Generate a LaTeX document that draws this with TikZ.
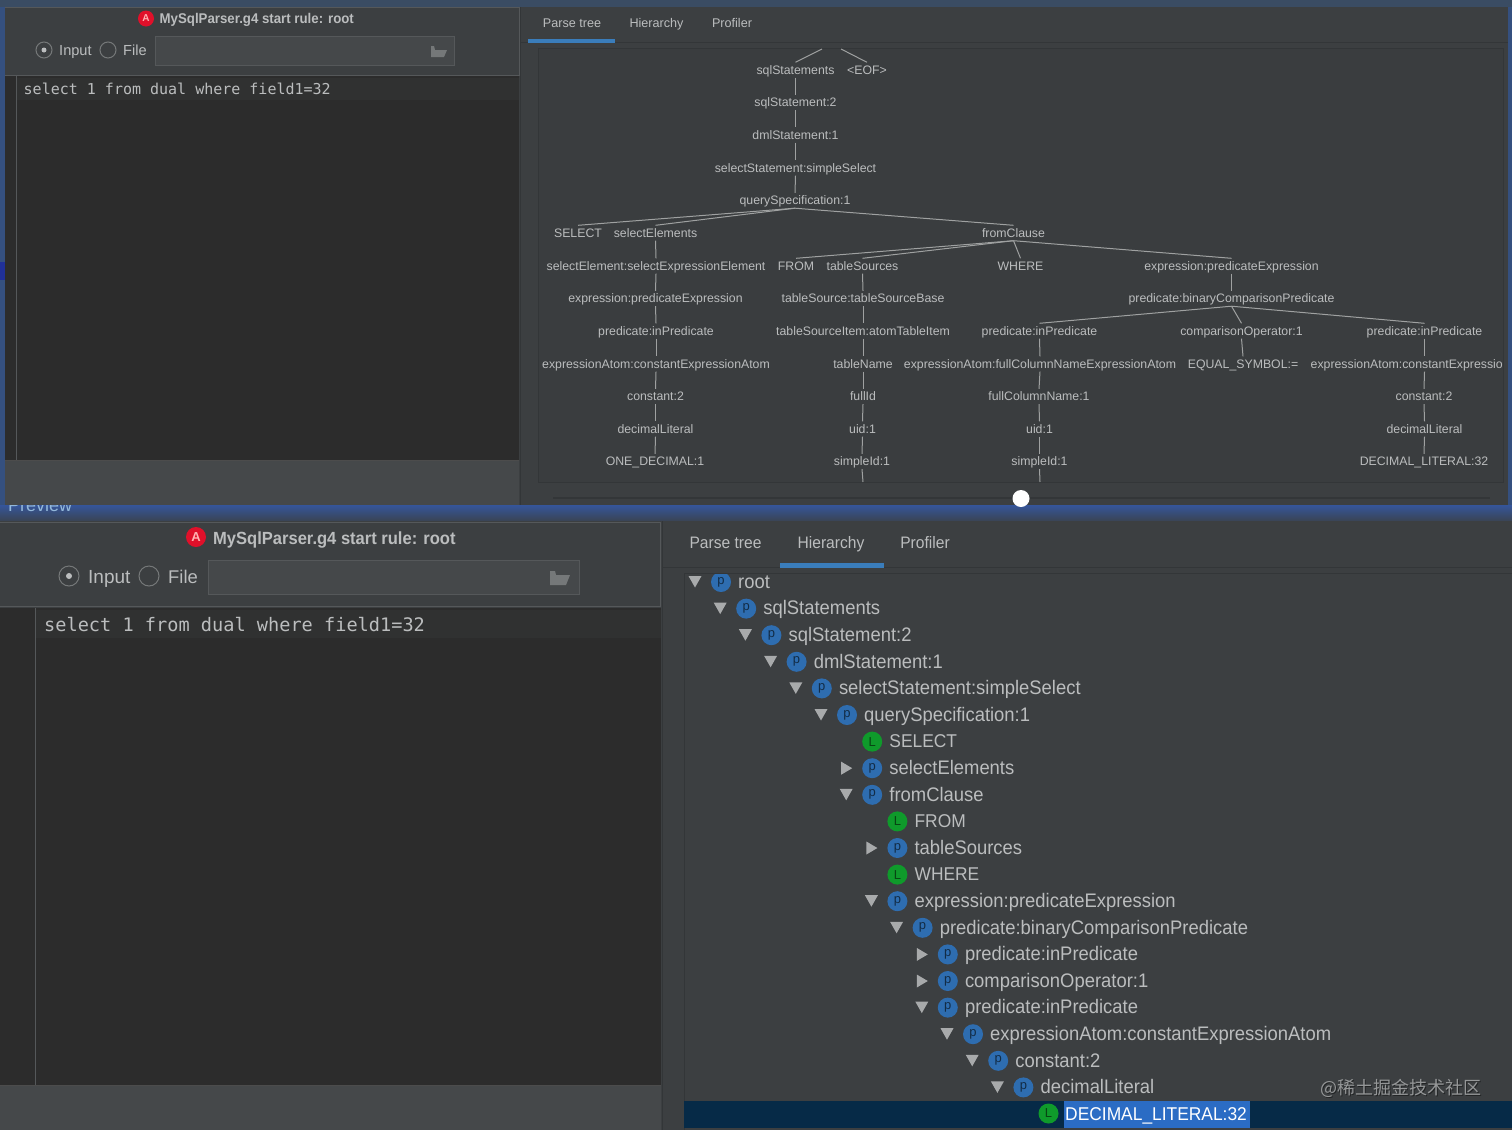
\documentclass[tikz,border=0pt]{standalone}
\usepackage{fontspec}
\setmainfont{Liberation Sans}
\setmonofont{DejaVu Sans Mono}
\newfontfamily\cjkfont{Noto Sans CJK SC}
\newfontfamily\condfont[FakeStretch=0.94]{Liberation Sans}
\newcommand{\capsz}{\fontsize{18.5}{22}\selectfont}
\definecolor{panel}{HTML}{3C3F41}
\definecolor{treebg}{HTML}{3A3D3F}
\definecolor{edit}{HTML}{2C2C2C}
\definecolor{editline}{HTML}{303131}
\definecolor{foot}{HTML}{45484A}
\definecolor{txt}{HTML}{BBBDBE}
\definecolor{rule}{HTML}{333638}
\definecolor{frameline}{HTML}{55585A}
\definecolor{ublue}{HTML}{3A7DBB}
\definecolor{barblue}{HTML}{35507F}
\definecolor{bandblue}{HTML}{35559A}
\definecolor{topbar}{HTML}{3A4C63}
\definecolor{pblue}{HTML}{2E6DB0}
\definecolor{lgreen}{HTML}{0F9A2B}
\definecolor{antred}{HTML}{E0102A}
\definecolor{selrow}{HTML}{062A47}
\definecolor{selbox}{HTML}{2B6CC4}
\tikzset{
  x=1pt,y=-1pt,
  tn/.style={inner sep=0pt,minimum height=15pt,text height=8pt,text depth=0pt,text=txt,font=\fontsize{12.3}{14}\selectfont},
  edge/.style={draw=txt!85!black,line width=1pt},
  tabtxt/.style={inner sep=0pt,text=txt,text depth=0pt},
  rowtxt/.style={inner sep=0pt,anchor=west,text=txt,text height=12.5pt,text depth=0pt,font=\condfont\fontsize{19.6}{22}\selectfont},
  ico/.style={circle,inner sep=0pt,minimum size=20pt,font=\fontsize{13}{13}\selectfont},
  pico/.style={ico,fill=pblue,text=black!60!pblue},
  lico/.style={ico,fill=lgreen,text=black!55!lgreen},
  tri/.style={fill=txt!90!black},
  box/.style={draw=frameline,line width=1pt,fill=foot},
  radio/.style={circle,draw=txt!45!panel,line width=1pt,inner sep=0pt,fill=panel},
  dot/.style={circle,fill=txt,inner sep=0pt},
  antlr/.style={circle,fill=antred,inner sep=0pt,text=white!70!red},
  lbl/.style={inner sep=0pt,anchor=west,text=txt,text depth=0pt},
}
\begin{document}
\begin{tikzpicture}
\useasboundingbox (0,0) rectangle (1512,1130);
\fill[barblue] (0,0) rectangle (1512,1130);
\fill[black!15!barblue!70!blue] (0,262) rectangle (5,280);
\fill[topbar] (0,0) rectangle (1512,7);
% ---------- top window
\fill[panel] (5,7) rectangle (1508,505);
\shade[top color=bandblue,bottom color=panel!70!barblue] (0,505) rectangle (1512,521);
\begin{scope}
\clip (0,504.5) rectangle (90,513);
\node[inner sep=0pt,anchor=base west,text=ublue!55!white,font=\fontsize{18}{20}\selectfont] (prev) at (8,511.5) {Preview};
\end{scope}
\draw[frameline,line width=.8pt] (5,7.5) -- (519.5,7.5) -- (519.5,75) -- (5,75);
\fill[edit] (5,76) rectangle (519,460);
\fill[editline] (17,78) rectangle (519,100);
\draw[frameline,line width=.8pt] (16.5,76) -- (16.5,460);
\fill[foot] (5,461) rectangle (519,505);
\draw[black!70,line width=1pt] (5,460.5) -- (519,460.5);
\draw[rule,line width=1pt] (520.5,7) -- (520.5,505);
% header
\node[antlr,minimum size=16pt,font=\bfseries\fontsize{10}{10}\selectfont] (a1) at (146,18.5) {A};
\node[lbl,text height=10pt,font=\condfont\bfseries\fontsize{14.1}{15}\selectfont] (t1) at (159.5,18.5) {MySqlParser.g4 start rule: root};
\node[radio,minimum size=16pt] (r1) at (44,50) {};
\node[dot,minimum size=5pt] (r1d) at (44,50) {};
\node[lbl,text height=11pt,font=\fontsize{14.6}{16}\selectfont] (i1) at (59,50) {Input};
\node[radio,minimum size=16pt] (r2) at (108,50) {};
\node[lbl,text height=11pt,font=\fontsize{14.6}{16}\selectfont] (f1) at (123,50) {File};
\draw[box] (155.5,36.5) rectangle (454,65);
\fill[txt!45!panel] (431,46) -- (431,57) -- (444,57) -- (447,50) -- (435,50) -- (434,46) -- cycle;
\node[lbl,text height=11pt,font=\ttfamily\fontsize{15}{17}\selectfont] (q1) at (23.5,89) {select 1 from dual where field1=32};
% tabs
\draw[rule,line width=1pt] (521,42) -- (1508,42);
\fill[ublue] (528,39) rectangle (615,42.5);
\node[tabtxt,text height=9.5pt,font=\fontsize{12.6}{14}\selectfont] (tp1) at (572,22.5) {Parse tree};
\node[tabtxt,text height=9.5pt,font=\fontsize{12.6}{14}\selectfont] (th1) at (656.5,22.5) {Hierarchy};
\node[tabtxt,text height=9.5pt,font=\fontsize{12.6}{14}\selectfont] (tf1) at (732,22.5) {Profiler};
% tree
\fill[treebg] (538,48) rectangle (1503,482);
\draw[rule,line width=.5pt] (538,48) rectangle (1503,482);
\coordinate (rootL) at (822,49);
\coordinate (rootR) at (841,49);
\coordinate (stubA) at (863,482);
\coordinate (stubB) at (1040,482);
\begin{scope}
\clip (538,48) rectangle (1502.5,482);
\node[tn] (n1) at (795.5,70) {sqlStatements};
\node[tn] (n2) at (867,70) {<EOF>};
\node[tn] (n3) at (795.5,102.5) {sqlStatement:2};
\node[tn] (n4) at (795.5,135) {dmlStatement:1};
\node[tn] (n5) at (795.5,168) {selectStatement:simpleSelect};
\node[tn] (n6) at (795,200.5) {querySpecification:1};
\node[tn] (n7) at (578,233) {SELECT};
\node[tn] (n8) at (655.5,233) {selectElements};
\node[tn] (n9) at (1013.5,233) {fromClause};
\node[tn] (n10) at (656,266) {selectElement:selectExpressionElement};
\node[tn] (n11) at (796,266) {FROM};
\node[tn] (n12) at (862.5,266) {tableSources};
\node[tn] (n13) at (1020.5,266) {WHERE};
\node[tn] (n14) at (1231.5,266) {expression:predicateExpression};
\node[tn] (n15) at (655.5,298.5) {expression:predicateExpression};
\node[tn] (n16) at (863,298.5) {tableSource:tableSourceBase};
\node[tn] (n17) at (1231.5,298.5) {predicate:binaryComparisonPredicate};
\node[tn] (n18) at (656,331) {predicate:inPredicate};
\node[tn] (n19) at (863,331) {tableSourceItem:atomTableItem};
\node[tn] (n20) at (1039.5,331) {predicate:inPredicate};
\node[tn] (n21) at (1241.5,331) {comparisonOperator:1};
\node[tn] (n22) at (1424.5,331) {predicate:inPredicate};
\node[tn] (n23) at (656,364) {expressionAtom:constantExpressionAtom};
\node[tn] (n24) at (863,364) {tableName};
\node[tn] (n25) at (1040,364) {expressionAtom:fullColumnNameExpressionAtom};
\node[tn] (n26) at (1243,364) {EQUAL\_SYMBOL:=};
\node[tn] (n27) at (1424.5,364) {expressionAtom:constantExpressionAtom};
\node[tn] (n28) at (655.5,396.5) {constant:2};
\node[tn] (n29) at (863,396.5) {fullId};
\node[tn] (n30) at (1039,396.5) {fullColumnName:1};
\node[tn] (n31) at (1424,396.5) {constant:2};
\node[tn] (n32) at (655.5,429) {decimalLiteral};
\node[tn] (n33) at (862.5,429) {uid:1};
\node[tn] (n34) at (1039.5,429) {uid:1};
\node[tn] (n35) at (1424.5,429) {decimalLiteral};
\node[tn] (n36) at (655,461.5) {ONE\_DECIMAL:1};
\node[tn] (n37) at (862,461.5) {simpleId:1};
\node[tn] (n38) at (1039.5,461.5) {simpleId:1};
\node[tn] (n39) at (1424,461.5) {DECIMAL\_LITERAL:32};
\end{scope}
\draw[edge] (rootL) -- (n1.north);
\draw[edge] (rootR) -- (n2.north);
\foreach \a/\b in {n1/n3,n3/n4,n4/n5,n5/n6,n6/n7,n6/n8,n6/n9,n8/n10,n9/n11,n9/n12,n9/n13,n9/n14,n10/n15,n12/n16,n14/n17,n15/n18,n16/n19,n17/n20,n17/n21,n17/n22,n18/n23,n19/n24,n20/n25,n21/n26,n22/n27,n23/n28,n24/n29,n25/n30,n27/n31,n28/n32,n29/n33,n30/n34,n31/n35,n32/n36,n33/n37,n34/n38,n35/n39}
  \draw[edge] (\a.south) -- (\b.north);
\draw[edge] (n37.south) -- (stubA);
\draw[edge] (n38.south) -- (stubB);
% scrollbar
\draw[rule,line width=2.5pt] (553,498) -- (1490,498);
\node[circle,fill=white,inner sep=0pt,minimum size=17pt] (thumb) at (1021,498.5) {};
% ---------- bottom window
\fill[panel] (0,521) rectangle (1512,1130);
\draw[frameline,line width=.8pt] (0,522.5) -- (660.5,522.5) -- (660.5,606.5) -- (0,606.5);
\fill[edit] (0,608) rectangle (661,1085);
\fill[editline] (36,610) rectangle (661,638);
\draw[frameline,line width=1pt] (35.5,608) -- (35.5,1085);
\fill[foot] (0,1086) rectangle (661,1130);
\draw[black!70,line width=1pt] (0,1085.5) -- (661,1085.5);
\draw[rule,line width=1pt] (662.5,521) -- (662.5,1130);
\node[antlr,minimum size=20pt,font=\bfseries\fontsize{13}{13}\selectfont] (a2) at (196,537) {A};
\node[lbl,text height=13pt,font=\condfont\bfseries\fontsize{17.6}{20}\selectfont] (t2) at (213,537.5) {MySqlParser.g4 start rule: root};
\node[radio,minimum size=20pt] (r3) at (69,576) {};
\node[dot,minimum size=6pt] (r3d) at (69,576) {};
\node[lbl,text height=14pt,font=\fontsize{19}{21}\selectfont] (i2) at (88,576.5) {Input};
\node[radio,minimum size=20pt] (r4) at (149,576) {};
\node[lbl,text height=14pt,font=\fontsize{18.4}{21}\selectfont] (f2) at (168,576.5) {File};
\draw[box] (208,560) rectangle (579.5,594);
\fill[txt!45!panel] (550,571) -- (550,585) -- (566,585) -- (570,575) -- (556,575) -- (555,571) -- cycle;
\node[lbl,text height=14pt,font=\ttfamily\fontsize{18.6}{21}\selectfont] (q2) at (44,624.5) {select 1 from dual where field1=32};
% tabs
\draw[rule,line width=1pt] (663,567) -- (1512,567);
\fill[ublue] (780,563) rectangle (883.5,567.5);
\node[tabtxt,text height=12pt,font=\condfont\fontsize{16.6}{18}\selectfont] (tp2) at (725.5,542.5) {Parse tree};
\node[tabtxt,text height=12pt,font=\condfont\fontsize{16.6}{18}\selectfont] (th2) at (831,542.5) {Hierarchy};
\node[tabtxt,text height=12pt,font=\condfont\fontsize{16.6}{18}\selectfont] (tf2) at (925,542.5) {Profiler};
% hierarchy
\draw[rule,line width=1pt] (684,573) -- (1512,573);
\draw[rule,line width=1pt] (684,573) -- (684,1130);
\fill[selrow] (684,1101) rectangle (1512,1127.5);
\fill[selbox] (1064,1101) rectangle (1250,1127.5);
\begin{scope}
\clip (685,574) rectangle (1512,1130);
\foreach \r/\l/\k/\s in {
 0/0/d/root,
 1/1/d/sqlStatements,
 2/2/d/sqlStatement:2,
 3/3/d/dmlStatement:1,
 4/4/d/selectStatement:simpleSelect,
 5/5/d/querySpecification:1,
 6/6/n/{\capsz SELECT},
 7/6/r/selectElements,
 8/6/d/fromClause,
 9/7/n/{\capsz FROM},
 10/7/r/tableSources,
 11/7/n/{\capsz WHERE},
 12/7/d/expression:predicateExpression,
 13/8/d/predicate:binaryComparisonPredicate,
 14/9/r/predicate:inPredicate,
 15/9/r/comparisonOperator:1,
 16/9/d/predicate:inPredicate,
 17/10/d/expressionAtom:constantExpressionAtom,
 18/11/d/constant:2,
 19/12/d/decimalLiteral}
 {
  \pgfmathsetmacro{\yy}{582+26.6*\r}
  \pgfmathsetmacro{\xt}{695+25.2*\l}
  \pgfmathsetmacro{\xi}{721+25.2*\l}
  \pgfmathsetmacro{\xs}{738+25.2*\l}
  \if\k d \fill[tri] (\xt-6.5,\yy-6) -- (\xt+6.5,\yy-6) -- (\xt,\yy+5.5) -- cycle; \fi
  \if\k r \fill[tri] (\xt-5,\yy-6.5) -- (\xt+6,\yy) -- (\xt-5,\yy+6.5) -- cycle; \fi
  \if\k n \node[lico] (ic\r) at (\xi,\yy) {L}; \else \node[pico] (ic\r) at (\xi,\yy) {p}; \fi
  \node[rowtxt] (row\r) at (\xs,\yy) {\s};
 }
\node[lico] (ic20) at (1048.5,1113.5) {L};
\node[rowtxt,text=white] (row20) at (1065,1114) {\capsz DECIMAL\_LITERAL:32};
\end{scope}
\node[inner sep=0pt,anchor=west,text=black!45!panel,font=\cjkfont\fontsize{18}{22}\selectfont] (wms) at (1321,1089.5) {@稀土掘金技术社区};
\node[inner sep=0pt,anchor=west,text=txt!70!panel,font=\cjkfont\fontsize{18}{22}\selectfont] (wm) at (1320,1088.5) {@稀土掘金技术社区};
\end{tikzpicture}
\end{document}
